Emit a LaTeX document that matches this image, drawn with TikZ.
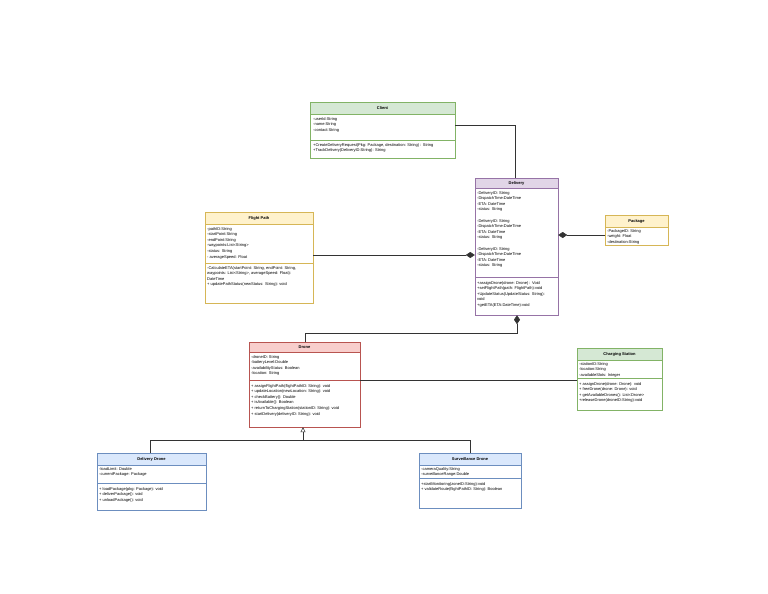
\documentclass[tikz,border=0pt]{standalone}
\usepackage{fontspec}
\setmainfont{Liberation Sans}
\usetikzlibrary{fit,arrows.meta}
\definecolor{gF}{HTML}{D5E8D4}\definecolor{gD}{HTML}{82B366}
\definecolor{pF}{HTML}{E1D5E7}\definecolor{pD}{HTML}{9673A6}
\definecolor{yF}{HTML}{FFF2CC}\definecolor{yD}{HTML}{D6B656}
\definecolor{rF}{HTML}{F8CECC}\definecolor{rD}{HTML}{B85450}
\definecolor{bF}{HTML}{DAE8FC}\definecolor{bD}{HTML}{6C8EBF}
\newcommand\umlbox[9]{%
  \coordinate (#1-nw) at (#2,#3); \coordinate (#1-se) at (#4,#5);
  \fill[#8F] (#2,#3) rectangle (#4,#6);
  \draw[#8D,line width=0.5pt] (#2,#3) rectangle (#4,#5);
  \draw[#8D,line width=0.5pt] (#2,#6) -- (#4,#6);
  \draw[#8D,line width=0.5pt] (#2,#7) -- (#4,#7);
  \node[inner sep=0,font=\fontsize{4}{5}\selectfont\bfseries] (#1-t) at ({(#2+#4)/2},{(#3+#6)/2}) {#9};
  \node[fit=(#1-nw)(#1-se),inner sep=0] (#1) {};
}
\tikzset{txt/.style={anchor=north west,inner sep=0,align=left,font=\fontsize{4}{5.6}\selectfont},
 conn/.style={line width=0.5pt,black!80},
 dia/.style={{Diamond[length=9pt,width=6pt]}-}}
\begin{document}
\begin{tikzpicture}[x=1pt,y=-1pt]
\useasboundingbox[fill=white] (0,0) rectangle (768,594);
% Client
\umlbox{cl}{310}{102}{455}{158}{114}{140}{g}{Client}
\node[txt] (cla) at (313,117) {-userId:String\\-name:String\\-contact:String};
\node[txt] (clm) at (313,143) {+CreateDeliveryRequest(Pkg: Package, destination: String) : String\\+TrackDelivery(DeliveryID:String): String};
% Delivery
\umlbox{dl}{475}{178}{558}{315}{188}{277}{p}{Delivery}
\node[txt] (dla) at (477,191) {-DeliveryID: String\\-DispatchTime:DateTime\\-ETA: DateTime\\-status: String\\[5.6pt]-DeliveryID: String\\-DispatchTime:DateTime\\-ETA: DateTime\\-status: String\\[5.6pt]-DeliveryID: String\\-DispatchTime:DateTime\\-ETA: DateTime\\-status: String};
\node[txt] (dlm) at (477,281) {+assignDrone(drone: Drone) : Void\\+setFlightPath(path: FlightPath):void\\+UpdateStatus(UpdateStatus: String):\\void\\+getETA(ETA:DateTime):void};
% Flight Path
\umlbox{fp}{205}{212}{313}{303}{224}{263}{y}{Flight Path}
\node[txt] (fpa) at (207,227) {-pathID:String\\-startPoint:String\\-endPoint:String\\-waypoints:List<String>\\-status: String\\- averageSpeed: Float};
\node[txt] (fpm) at (207,266) {-CalculateETA(startPoint: String, endPoint: String,\\waypoints: List<String>, averageSpeed: Float):\\DateTime\\+ updatePathStatus(newStatus: String): void};
% Package
\umlbox{pk}{605}{215}{668}{245}{227}{245}{y}{Package}
\node[txt] (pka) at (607,229) {-PackageID: String\\-weight: Float\\-destination:String};
% Drone
\umlbox{dr}{249}{342}{360}{427}{352}{380}{r}{Drone}
\node[txt] (dra) at (251,355) {-droneID: String\\-batteryLevel:Double\\-availabilityStatus: Boolean\\-location: String};
\node[txt] (drm) at (251,384) {+ assignFlightPath(flightPathID: String): void\\+ updateLocation(newLocation: String): void\\+ checkBattery(): Double\\+ isAvailable(): Boolean\\+ returnToChargingStation(stationID: String): void\\+ startDelivery(deliveryID: String): void};
% Charging Station
\umlbox{cs}{577}{348}{662}{410}{360}{378}{g}{Charging Station}
\node[txt] (csa) at (579,362) {-stationID:String\\-location:String\\-availableSlots: Integer};
\node[txt] (csm) at (579,382) {+ assignDrone(drone: Drone): void\\+ freeDrone(drone: Drone): void\\+ getAvailableDrones(): List<Drone>\\+releaseDrone(droneID:String):void};
% Delivery Drone
\umlbox{dd}{97}{453}{206}{510}{465}{483}{b}{Delivery Drone}
\node[txt] (dda) at (99,467) {-loadLimit: Double\\-currentPackage: Package};
\node[txt] (ddm) at (99,487) {+ loadPackage(pkg: Package): void\\+ deliverPackage(): void\\+ unloadPackage(): void};
% Surveillance Drone
\umlbox{sd}{419}{453}{521}{508}{465}{478}{b}{Surveillance Drone}
\node[txt] (sda) at (421,467) {-cameraQuality:String\\-surveillanceRange:Double};
\node[txt] (sdm) at (421,482) {+startMonitoring(zoneID:String):void\\+ validateRoute(flightPathID: String): Boolean};
% connectors
\draw[conn] (cl.east|-0,125) -| (dl.north-|515,0);
\draw[conn,dia] (dl.west|-0,255) -- (fp.east|-0,255);
\draw[conn,dia] (dl.east|-0,235) -- (pk.west|-0,235);
\draw[conn,dia] (dl.south-|517,0) -- (517,333) -| (dr.north-|305,0);
\draw[conn] (dr.east|-0,380) -- (cs.west|-0,380);
\coordinate (gen) at (303,440);
\draw[conn,{Triangle[open,length=5pt,width=5pt]}-] (dr.south-|303,0) -- (gen);
\draw[conn] (gen) -| (dd.north-|150,0);
\draw[conn] (gen) -| (sd.north-|470,0);
\end{tikzpicture}
\end{document}
